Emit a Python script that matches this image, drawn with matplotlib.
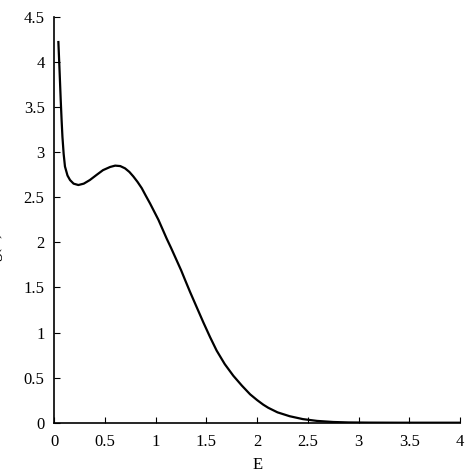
import numpy as np
import matplotlib
matplotlib.use("Agg")
import matplotlib.pyplot as plt

plt.rcParams["font.family"] = ["Liberation Serif", "DejaVu Serif"]

# curve
energy = [0.04, 0.05, 0.063, 0.072, 0.08, 0.092, 0.105, 0.13, 0.155, 0.19, 0.237,
          0.29, 0.35, 0.42, 0.48, 0.55, 0.60, 0.65, 0.697, 0.74, 0.779, 0.82,
          0.862, 0.90, 0.944, 0.985, 1.026, 1.067, 1.108, 1.15, 1.19, 1.25,
          1.29, 1.338, 1.40, 1.47, 1.535, 1.60, 1.68, 1.765, 1.85, 1.93, 2.0,
          2.06, 2.11, 2.2, 2.32, 2.45, 2.59, 2.75, 2.9, 3.1, 3.4, 3.7, 4.0]
dos = [4.22, 3.95, 3.58, 3.35, 3.17, 2.98, 2.84, 2.74, 2.69, 2.65, 2.635,
       2.65, 2.69, 2.75, 2.80, 2.835, 2.85, 2.845, 2.82, 2.78, 2.73, 2.67,
       2.60, 2.52, 2.43, 2.34, 2.25, 2.145, 2.04, 1.94, 1.84, 1.69,
       1.58, 1.45, 1.29, 1.11, 0.95, 0.80, 0.65, 0.52, 0.41, 0.315, 0.25,
       0.20, 0.165, 0.115, 0.072, 0.04, 0.02, 0.008, 0.003, 0.001, 0.0, 0.0, 0.0]
xticks = [0, 0.5, 1, 1.5, 2, 2.5, 3, 3.5, 4]
yticks = [0, 0.5, 1, 1.5, 2, 2.5, 3, 3.5, 4, 4.5]

fig = plt.figure(figsize=(4.74, 4.74), dpi=100)
ax = fig.add_axes([0.1146, 0.1082, 0.856, 0.8564])
ax.plot(energy, dos, color="black", lw=1.6, solid_joinstyle="round")
ax.set_xlim(0, 4)
ax.set_ylim(0, 4.5)
ax.set_xticks(xticks)
ax.set_xticklabels([f"{t:g}" for t in xticks])
ax.set_yticks(yticks)
ax.set_yticklabels([f"{t:g}" for t in yticks])
for s in ["top", "right"]:
    ax.spines[s].set_visible(False)
for s in ["left", "bottom"]:
    ax.spines[s].set_linewidth(1.2)
ax.tick_params(direction="in", length=4, width=0.8, labelsize=12, colors="black")
ax.tick_params(axis="x", pad=8)
ax.tick_params(axis="y", pad=7)
ax.set_xlabel("E", fontsize=12, labelpad=5)
fig.text(-0.012, 0.48, "g(E)", rotation=90, fontsize=12, ha="center", va="center")

fig.savefig("out.png", dpi=100)
